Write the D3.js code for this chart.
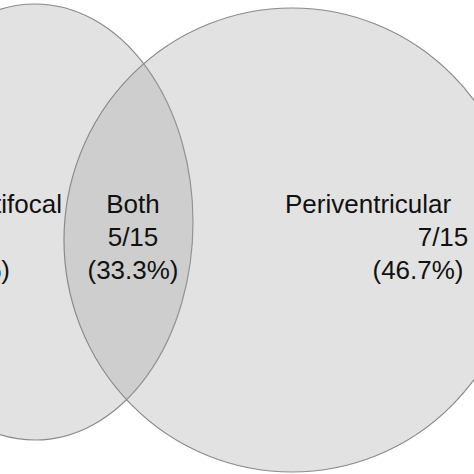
<!DOCTYPE html><html><head><script src="https://cdn.jsdelivr.net/npm/d3@7"></script>
<style>body{margin:0;background:#fff}</style></head><body><svg width="474" height="474"></svg>
<script>
const sets=["Multifocal","Both","Periventricular"];
const counts=[3,5,7];
const total=15;
const svg=d3.select("svg");
const x=d3.scaleLinear().domain([0,474]).range([0,474]);
const ellipses=[{cx:35,cy:222,rx:158,ry:218},{cx:292,cy:240,rx:228,ry:232}];
svg.selectAll("ellipse").data(ellipses).join("ellipse")
 .attr("cx",d=>x(d.cx)).attr("cy",d=>d.cy).attr("rx",d=>d.rx).attr("ry",d=>d.ry)
 .attr("fill","#a8a8a8").attr("fill-opacity",0.33).attr("stroke","#8a8a8a").attr("stroke-width",1.2);
const lab=[{xs:[62,-4,10]},{xs:[133,133,133]},{xs:[285,443,418]}];
sets.forEach((s,i)=>{
 const lines=[s,counts[i]+"/"+total,"("+(counts[i]/total*100).toFixed(1)+"%)"];
 const anchors=i==0?["end","end","end"]:i==1?["middle","middle","middle"]:["start","middle","middle"];
 lines.forEach((t,j)=>svg.append("text").attr("x",x(lab[i].xs[j])).attr("y",213+j*33)
  .attr("text-anchor",anchors[j]).attr("font-family","Liberation Sans, Arial").attr("font-size",26).attr("fill","#111").text(t));
});
</script></body></html>
